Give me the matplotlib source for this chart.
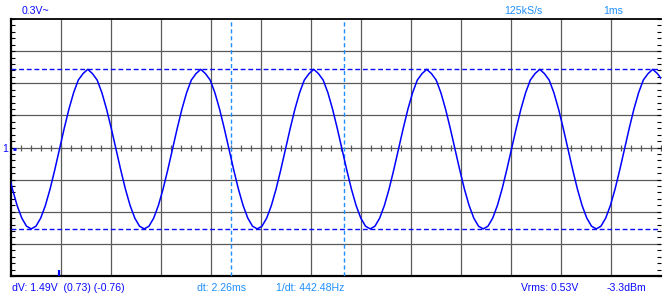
import numpy as np
import matplotlib
matplotlib.use("Agg")
import matplotlib.pyplot as plt
from matplotlib import font_manager as fm

volts_per_div = 0.3          # V / div
ms_per_div = 1.0             # ms / div
n_xdiv = 13
n_ydiv = 8

# captured trace: one sample every 2.26/24 ms, first sample at -0.066 ms
sample_dt_ms = 2.26 / 24
trace_t0_ms = -0.066
trace_v = [
    -0.208, -0.388, -0.542, -0.660, -0.735, -0.760, -0.735, -0.660, -0.542, -0.388, -0.208, -0.015,
     0.178,  0.358,  0.512,  0.630,  0.690,  0.730,  0.690,  0.630,  0.512,  0.358,  0.178, -0.015,
    -0.208, -0.388, -0.542, -0.660, -0.735, -0.760, -0.735, -0.660, -0.542, -0.388, -0.208, -0.015,
     0.178,  0.358,  0.512,  0.630,  0.690,  0.730,  0.690,  0.630,  0.512,  0.358,  0.178, -0.015,
    -0.208, -0.388, -0.542, -0.660, -0.735, -0.760, -0.735, -0.660, -0.542, -0.388, -0.208, -0.015,
     0.178,  0.358,  0.512,  0.630,  0.690,  0.730,  0.690,  0.630,  0.512,  0.358,  0.178, -0.015,
    -0.208, -0.388, -0.542, -0.660, -0.735, -0.760, -0.735, -0.660, -0.542, -0.388, -0.208, -0.015,
     0.178,  0.358,  0.512,  0.630,  0.690,  0.730,  0.690,  0.630,  0.512,  0.358,  0.178, -0.015,
    -0.208, -0.388, -0.542, -0.660, -0.735, -0.760, -0.735, -0.660, -0.542, -0.388, -0.208, -0.015,
     0.178,  0.358,  0.512,  0.630,  0.690,  0.730,  0.690,  0.630,  0.512,  0.358,  0.178, -0.015,
    -0.208, -0.388, -0.542, -0.660, -0.735, -0.760, -0.735, -0.660, -0.542, -0.388, -0.208, -0.015,
     0.178,  0.358,  0.512,  0.630,  0.690,  0.730,  0.690,  0.630,
]

cursor_times_ms = [4.40, 6.66]
cursor_volts = [0.73, -0.76]
trigger_time_ms = 0.96

label_top_left = "0.3V~"
label_rate = "125kS/s"
label_timebase = "1ms"
label_dv = "dV: 1.49V  (0.73) (-0.76)"
label_dt = "dt: 2.26ms"
label_freq = "1/dt: 442.48Hz"
label_vrms = "Vrms: 0.53V"
label_dbm = "-3.3dBm"
label_channel = "1"

# ---------------- styling ----------------
W, H = 672, 299
BLUE = "#0a0aff"
LBLUE = "#1e8fff"
GRID = "#5a5a5a"

names = {f.name for f in fm.fontManager.ttflist}
if "Liberation Sans Narrow" in names:
    FAM, FS = "Liberation Sans Narrow", 9.0
else:
    FAM, FS = "Liberation Sans", 7.6

fig = plt.figure(figsize=(W / 100, H / 100), dpi=100, facecolor="white")
left_px, right_px, top_px, bot_px = 11, 661, 19, 276
ax = fig.add_axes([left_px / W, 1 - bot_px / H,
                   (right_px - left_px) / W, (bot_px - top_px) / H])
ax.set_facecolor("white")

xmax = n_xdiv * ms_per_div
ymax = n_ydiv / 2 * volts_per_div
ax.set_xlim(0, xmax)
ax.set_ylim(-ymax, ymax)

# grid
for k in range(1, n_xdiv):
    ax.axvline(k * ms_per_div, color=GRID, lw=0.9, zorder=1)
for k in range(1, n_ydiv):
    ax.axhline(-ymax + k * volts_per_div, color=GRID, lw=0.9, zorder=1)

# sub-division ticks on centre line
sub_t = np.arange(0, xmax + 1e-9, ms_per_div / 5)
ax.plot(sub_t, np.zeros_like(sub_t), ls="none", marker="|", ms=4.6,
        mew=0.9, color=GRID, zorder=1, clip_on=True)

# spines
for s in ["left", "bottom"]:
    ax.spines[s].set_linewidth(1.6)
    ax.spines[s].set_color("black")
ax.spines["top"].set_linewidth(1.3)
ax.spines["top"].set_color("black")
ax.spines["right"].set_visible(False)

ax.set_xticks([])
ax.set_yticks(np.arange(-ymax, ymax + 1e-9, volts_per_div / 5))
ax.tick_params(axis="y", left=True, right=True, direction="in", length=3.0,
               width=0.8, color="black", labelleft=False, labelright=False)

# trace
t = trace_t0_ms + np.arange(len(trace_v)) * sample_dt_ms
ax.plot(t, trace_v, color="#0000ff", lw=1.1, zorder=4)

# cursors
for ct in cursor_times_ms:
    ax.axvline(ct, color=LBLUE, lw=1.0, ls=(0, (3, 2)), zorder=3)
for cv in cursor_volts:
    ax.axhline(cv, color=BLUE, lw=1.0, ls=(0, (3.5, 2)), zorder=3)

# trigger marker and channel ground marker
ax.plot([trigger_time_ms, trigger_time_ms], [-ymax, -ymax + 0.055],
        color="#0000ff", lw=1.6, solid_capstyle="butt", zorder=5, clip_on=False)
ax.plot([0.03, 0.1], [-0.015, -0.015], color="#0000ff", lw=2.0,
        solid_capstyle="butt", zorder=5, clip_on=False)


def put(x, y, s, color):
    fig.text(x / W, 1 - y / H, s, ha="left", va="baseline", color=color,
             fontsize=FS, family=[FAM, "DejaVu Sans"])


put(22, 13.5, label_top_left, BLUE)
put(504, 13.5, label_rate, LBLUE)
put(603.5, 13.5, label_timebase, LBLUE)
put(12, 291, label_dv, BLUE)
put(197, 291, label_dt, LBLUE)
put(276.5, 291, label_freq, LBLUE)
put(521, 291, label_vrms, BLUE)
put(606.5, 291, label_dbm, BLUE)
put(2.5, 152.5, label_channel, BLUE)

fig.savefig("out.png", dpi=100, facecolor="white")
